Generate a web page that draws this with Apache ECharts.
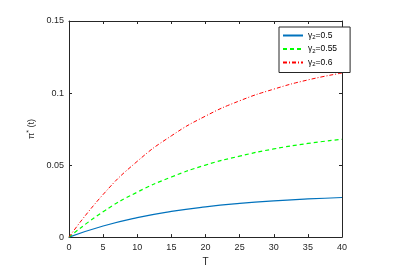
<!DOCTYPE html>
<html>
<head>
<meta charset="utf-8">
<script src="https://cdn.jsdelivr.net/npm/echarts@6/dist/echarts.min.js"></script>
<style>html,body{margin:0;padding:0;background:#fff;}#c{width:393px;height:272px;}</style>
</head>
<body>
<div id="c"></div>
<script>
var T = [0, 5, 10, 15, 20, 25, 30, 35, 40];
var s05 = [0, 0.0077, 0.0135, 0.0178, 0.0210, 0.0234, 0.0252, 0.0265, 0.0275];
var s055 = [0, 0.0176, 0.0312, 0.0417, 0.0500, 0.0562, 0.0612, 0.0650, 0.0679];
var s06 = [0, 0.0296, 0.0526, 0.0703, 0.0840, 0.0946, 0.1027, 0.1091, 0.1139];
var names = ['γ2=0.5', 'γ2=0.55', 'γ2=0.6'];
var gammaVals = ['0.5', '0.55', '0.6'];

function pairs(ys) { return T.map(function (t, i) { return [t, ys[i]]; }); }

var font = 'Liberation Sans, Arial, sans-serif';
var axisColor = '#262626';

var chart = echarts.init(document.getElementById('c'));
chart.setOption({
  animation: false,
  backgroundColor: '#fff',
  grid: { left: 69, right: 51, top: 21, bottom: 34, containLabel: false },
  legend: {
    orient: 'vertical',
    left: 279, top: 27,
    padding: [4, 13, 5, 3],
    itemGap: 4,
    itemWidth: 20, itemHeight: 8,
    borderColor: axisColor, borderWidth: 1,
    backgroundColor: '#fff',
    data: names,
    itemStyle: { opacity: 0 },
    formatter: function (n) {
      var i = names.indexOf(n);
      return '{a|γ}{s|2}{a|=' + gammaVals[i] + '}';
    },
    textStyle: {
      color: '#000', fontFamily: font, fontSize: 8,
      rich: {
        a: { fontSize: 8.5, fontFamily: font, color: '#000' },
        s: { fontSize: 6, fontFamily: font, color: '#000', verticalAlign: 'bottom', padding: [4, 0, 0, 0] }
      }
    }
  },
  xAxis: [{
    type: 'value', min: 0, max: 40, interval: 5,
    name: 'T', nameLocation: 'middle', nameGap: 19,
    nameTextStyle: { color: axisColor, fontFamily: font, fontSize: 10 },
    axisLine: { onZero: false, lineStyle: { color: axisColor, width: 1 } },
    axisTick: { inside: true, length: 3, lineStyle: { color: axisColor } },
    axisLabel: { color: axisColor, fontFamily: font, fontSize: 9, margin: 6 },
    splitLine: { show: false }
  }, {
    type: 'value', min: 0, max: 40, interval: 5, position: 'top',
    axisLine: { show: true, onZero: false, lineStyle: { color: axisColor, width: 1 } },
    axisTick: { show: true, inside: true, length: 3, lineStyle: { color: axisColor } },
    axisLabel: { show: false },
    splitLine: { show: false }
  }],
  yAxis: [{
    type: 'value', min: 0, max: 0.15, interval: 0.05,
    name: '{p|π}{s|*}{p| (t)}', nameLocation: 'middle', nameGap: 22,
    nameTextStyle: {
      color: axisColor, fontFamily: font, fontSize: 9,
      rich: {
        p: { fontSize: 9, fontFamily: font, color: axisColor },
        s: { fontSize: 7, fontFamily: font, color: axisColor, verticalAlign: 'top', padding: [0, 0, 4, 0] }
      }
    },
    axisLine: { show: true, onZero: false, lineStyle: { color: axisColor, width: 1 } },
    axisTick: { show: true, inside: true, length: 3, lineStyle: { color: axisColor } },
    axisLabel: { color: axisColor, fontFamily: font, fontSize: 9, margin: 5 },
    splitLine: { show: false }
  }, {
    type: 'value', min: 0, max: 0.15, interval: 0.05, position: 'right',
    axisLine: { show: true, onZero: false, lineStyle: { color: axisColor, width: 1 } },
    axisTick: { show: true, inside: true, length: 3, lineStyle: { color: axisColor } },
    axisLabel: { show: false },
    splitLine: { show: false }
  }],
  series: [{
    name: names[0], type: 'line', smooth: true, symbol: 'none',
    data: pairs(s05),
    lineStyle: { color: '#0072BD', width: 1.2, type: 'solid' },
    itemStyle: { color: '#0072BD' }
  }, {
    name: names[1], type: 'line', smooth: true, symbol: 'none',
    data: pairs(s055),
    lineStyle: { color: '#00FF00', width: 1.2, type: [4, 3] },
    itemStyle: { color: '#00FF00' }
  }, {
    name: names[2], type: 'line', smooth: true, symbol: 'none',
    data: pairs(s06),
    lineStyle: { color: '#FF0000', width: 1, type: [4, 2, 1, 2] },
    itemStyle: { color: '#FF0000' }
  }]
});
</script>
</body>
</html>
